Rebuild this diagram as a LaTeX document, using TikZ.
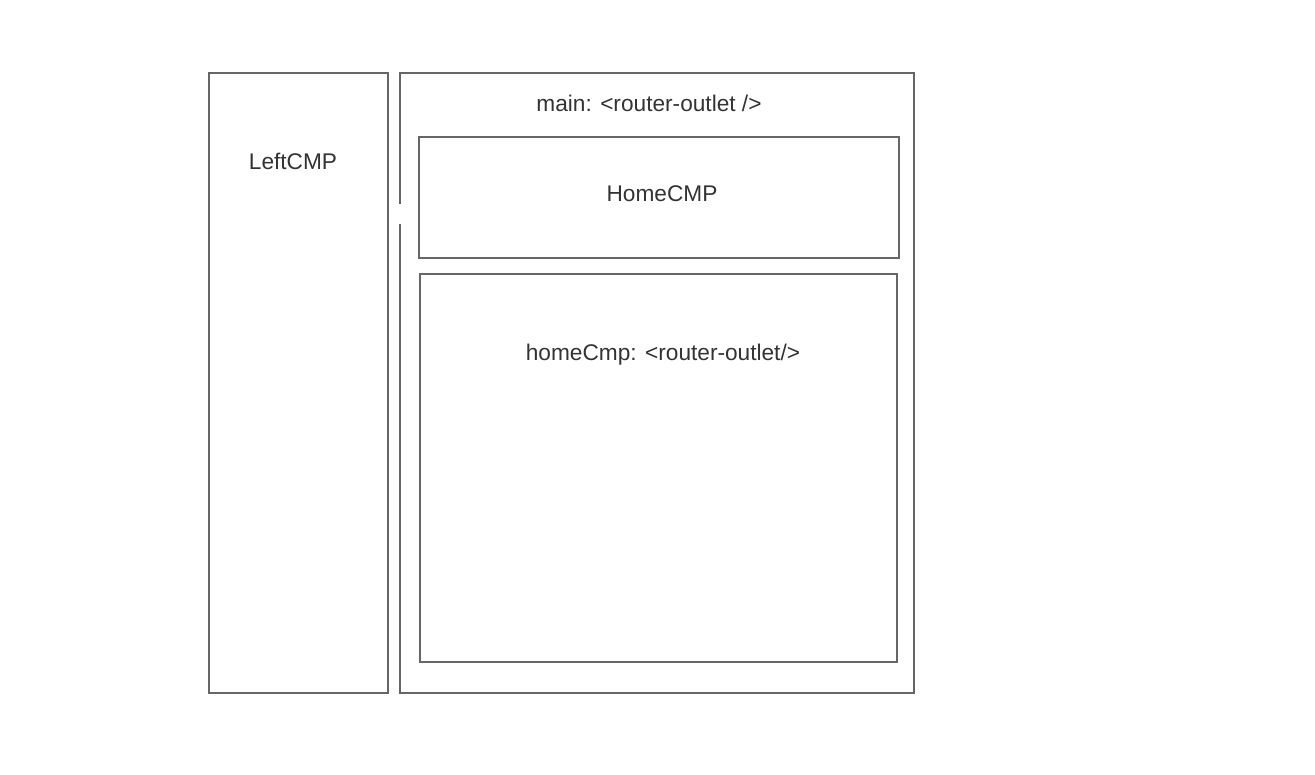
\documentclass[tikz,border=0pt]{standalone}
\usepackage{fontspec}
\setmainfont{Liberation Sans}
\definecolor{txt}{HTML}{333333}
\definecolor{edge}{HTML}{666666}
\begin{document}
\begin{tikzpicture}[x=0.75pt,y=-0.75pt,
  panel/.style={draw=edge,line width=0.9pt},
  label/.style={text=txt,font=\fontsize{17}{20}\selectfont}]
  \useasboundingbox (0,0) rectangle (1315,775);
  %Left column
  \draw[panel] (209,73) rectangle (388,693);
  \node[label] (left) at (293,161) {LeftCMP};
  %Main outlet
  \draw[panel] (400,73) rectangle (914,693);
  \node[label] (main) at (649,103) {main: <router-outlet />};
  %Home component
  \draw[panel] (419,137) rectangle (899,258);
  \node[label] (home) at (662,194) {HomeCMP};
  %Nested outlet
  \draw[panel] (420,274) rectangle (897,662);
  \node[label] (outlet) at (663,355) {homeCmp: <router-outlet/>};
  %Gap in the border
  \fill[white] (399,204) rectangle (418,224);
\end{tikzpicture}
\end{document}
